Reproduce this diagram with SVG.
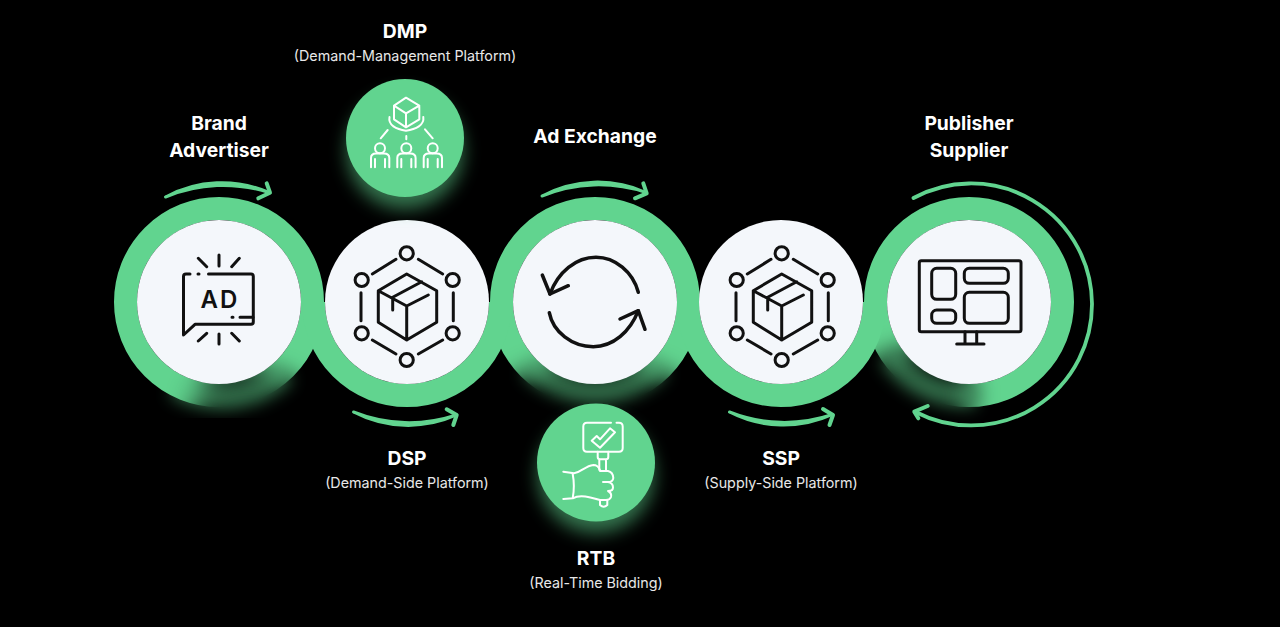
<svg xmlns="http://www.w3.org/2000/svg" width="1280" height="627" viewBox="0 0 1280 627">
<style>
.title{font-family:Inter,"Liberation Sans",sans-serif;font-size:19.300px;font-weight:700;fill:#fff;text-anchor:middle}
.sub{font-family:Inter,"Liberation Sans",sans-serif;font-size:14.300px;fill:#e8e8e8;text-anchor:middle}
.ring{fill:none;stroke:#61d48f;stroke-width:23}
.glow{fill:none;stroke:#61d48f;stroke-width:24;opacity:.5}
.disc{fill:#f4f7fb}
.ico{fill:none;stroke:#111;stroke-width:3;stroke-linecap:round;stroke-linejoin:round}
.wico{fill:none;stroke:#fff;stroke-width:2;stroke-linecap:round;stroke-linejoin:round}
.arr{fill:#61d48f;stroke:#61d48f;stroke-width:3;stroke-linejoin:round}
.thin{fill:none;stroke:#61d48f;stroke-width:3.800;stroke-linecap:round}
.hd{fill:none;stroke:#61d48f;stroke-width:4;stroke-linecap:round;stroke-linejoin:round}
.badge{fill:#61d48f}
</style>
<defs>
<filter id="b8" x="-40%" y="-80%" width="180%" height="260%"><feGaussianBlur stdDeviation="8"/></filter>
<filter id="b9" x="-40%" y="-40%" width="180%" height="180%"><feGaussianBlur stdDeviation="9"/></filter>
<filter id="b12" x="-50%" y="-50%" width="200%" height="200%"><feGaussianBlur stdDeviation="12"/></filter>
<mask id="m1" maskUnits="userSpaceOnUse" x="0" y="0" width="1280" height="627"><rect width="1280" height="627" fill="#fff"/><ellipse cx="250" cy="405" rx="58" ry="35" fill="#000" filter="url(#b12)"/></mask>
<mask id="m3" maskUnits="userSpaceOnUse" x="0" y="0" width="1280" height="627"><rect width="1280" height="627" fill="#fff"/><ellipse cx="595" cy="405" rx="95" ry="45" fill="#000" filter="url(#b12)"/></mask>
<mask id="m5" maskUnits="userSpaceOnUse" x="0" y="0" width="1280" height="627"><rect width="1280" height="627" fill="#fff"/><ellipse cx="915" cy="395" rx="58" ry="45" fill="#000" filter="url(#b12)"/></mask>
<g id="hub">
<circle cx="406.700" cy="253.300" r="6.600"/><circle cx="452.700" cy="280" r="6.600"/><circle cx="452.700" cy="333.300" r="6.600"/><circle cx="406.700" cy="360" r="6.600"/><circle cx="361.700" cy="333.300" r="6.600"/><circle cx="361.700" cy="280" r="6.600"/>
<path d="M372.300,274 L396,259.300 M418.300,259.300 L442.700,274 M453.300,292.700 V320.700 M442.700,340 L418.300,354 M396,354 L372.300,340 M361,292.700 V320.700"/>
<path d="M406.700,274 L436.700,290.700 V322.300 L406.700,340 L378.300,322.300 V290.700 Z M378.300,290.700 L406.700,306 L428.300,295 M406.700,306 V340 M421.700,281.700 L392.700,297.300 V310"/>
</g>
</defs>
<rect width="1280" height="627" fill="#000"/>

<g id="track">
<path class="glow" d="M175,385 A93.500,93.500 0 0 0 285,372" filter="url(#b8)"/>
<path class="glow" d="M530,365 A93.500,93.500 0 0 0 660,365" filter="url(#b8)"/>
<path class="glow" d="M890,355 A93.500,93.500 0 0 0 975,395" filter="url(#b8)"/>
<circle class="ring" cx="219" cy="302" r="93.500" mask="url(#m1)"/>
<circle class="ring" cx="595" cy="302" r="93.500" mask="url(#m3)"/>
<circle class="ring" cx="969" cy="302" r="93.500" mask="url(#m5)"/>
<path class="ring" d="M313.500,302 A93.500,93.500 0 0 0 500.500,302"/>
<path class="ring" d="M687.500,302 A93.500,93.500 0 0 0 874.500,302"/>
</g>

<g id="connectors">
<g><path class="arr" d="M165.500,197 A118,118 0 0 1 269,192.500 A150,150 0 0 0 165.500,197 Z"/><path class="hd" d="M266.700,183.300 L270,192.700 L258.300,198.300"/></g>
<g><path class="arr" d="M353.500,412 A118,118 0 0 0 456.500,415 A150,150 0 0 1 353.500,412 Z"/><path class="hd" d="M446.700,409.300 L456.700,415 L453.300,425"/></g>
<g><path class="arr" d="M542,196 A118,118 0 0 1 646,192.500 A150,150 0 0 0 542,196 Z"/><path class="hd" d="M643.300,183.300 L646.700,193.300 L635,198.300"/></g>
<g><path class="arr" d="M729.500,412 A118,118 0 0 0 832.500,414.500 A150,150 0 0 1 729.500,412 Z"/><path class="hd" d="M823,409 L833,415 L829.500,425"/></g>
<g><path class="thin" d="M913.500,198 A121,121 0 1 1 915.500,412"/><path class="hd" d="M927.700,406 L914.300,411.700 L918.300,418.300"/></g>
</g>

<g id="node-brand">
<circle class="disc" cx="219" cy="302" r="82"/>
<g class="ico">
<path d="M190,274 H186 Q183.500,274 183.500,276.500 V335 L195,324.300 H251 Q253.300,324.300 253.300,322 V276.500 Q253.300,274 251,274 H208.500"/>
<path d="M198,274 H199 M232,317.300 H233 M240,317.300 H253"/>
<path d="M219,255 V266 M198.300,258.300 L206.700,266.700 M239.300,258.300 L231.700,266.700 M219,334 V344 M198.300,341 L206.700,333.300 M239.300,341 L231.700,333.300"/>
</g>
<text x="220" y="308" font-family="Inter,'Liberation Sans',sans-serif" font-size="24" font-weight="600" letter-spacing="2" fill="#111" text-anchor="middle">AD</text>
<text class="title" x="219" y="130">Brand</text>
<text class="title" x="219" y="157">Advertiser</text>
</g>

<g id="node-dsp">
<circle class="disc" cx="407" cy="302" r="82"/>
<use href="#hub" class="ico"/>
<text class="title" x="407" y="465">DSP</text>
<text class="sub" x="407" y="488">(Demand-Side Platform)</text>
</g>

<g id="node-dmp">
<circle cx="405" cy="151" r="58" fill="#61d48f" opacity=".55" filter="url(#b9)"/>
<circle class="badge" cx="405" cy="138" r="59"/>
<g class="wico">
<path d="M406,97.700 L419.300,105.700 V119.300 L406,127.300 L394,119.300 V105.700 Z M394,105.700 L406,113.300 L419.300,105.700 M406,113.300 V127.300"/>
<path d="M389.500,117 C388,125 396,129.500 406,130.700 C416,129.500 424.500,125 423.300,117"/>
<path d="M380.700,138.300 L387.700,130 M406.300,136 V139.300 M432.700,138.300 L425,129.300"/>
<g id="person"><circle cx="380" cy="148.300" r="5"/><path d="M371,167.300 V158 Q371,153.500 376,153.500 H384 Q389.300,153.500 389.300,158 V167.300 M375,167.300 V159 M385,167.300 V159"/></g>
<use href="#person" x="26.300"/><use href="#person" x="52.700"/>
</g>
<text class="title" x="405" y="38">DMP</text>
<text class="sub" x="405" y="61">(Demand-Management Platform)</text>
</g>

<g id="node-exchange">
<circle class="disc" cx="595" cy="302" r="82"/>
<g class="ico" style="stroke-width:3.500">
<path d="M638.300,292.300 C633,272 615,257.300 596,257.300 C576,257.300 558,272 550,294"/>
<path d="M542.300,275 L550,294 L568.300,285.700"/>
<path d="M549.300,312.700 C553,332 572,346.700 593.300,346.700 C613,346.700 630,332 638.300,310.700"/>
<path d="M645,329.300 L638.300,310.700 L620,319"/>
</g>
<text class="title" x="595" y="143">Ad Exchange</text>
</g>

<g id="node-rtb">
<circle cx="596" cy="475" r="58" fill="#61d48f" opacity=".55" filter="url(#b9)"/>
<circle class="badge" cx="596" cy="462.500" r="59"/>
<g class="wico">
<path d="M611,422.700 H587 Q583.300,422.700 583.300,426.500 V448 Q583.300,451.700 587,451.700 H619 Q622.700,451.700 622.700,448 V426.500 Q622.700,422.700 619,422.700 H616.500"/>
<path d="M591.700,440.700 L596.700,436 L600,439.300 L610,428.300 L615,432.300 L600,447.700 Z"/>
<path d="M597.700,451.700 V457 Q597.700,459.300 600,459.300 H606 Q608.300,459.300 608.300,457 V451.700 M599.300,459.300 V470 M606,459.300 V471"/>
<path d="M563.300,471.700 L574,473.300 C582,472 585,466 593.300,465 Q598,465 600,470 M572.700,474 Q575,486 572.700,498.300 M563.300,499 L572.700,498.300 C580,494 590,497 600,500"/>
<path d="M600,471 H608 Q613,472 613.300,478 Q613,482 608,482 H603 M608,482 Q613,483 613,487.500 Q613,491 608,491 M608,491 Q612,493 611,497 Q610,500 606,500 H600 M600,500 V505 Q603.700,508.500 607.300,505 V500"/>
</g>
<text class="title" x="596" y="565">RTB</text>
<text class="sub" x="596" y="588">(Real-Time Bidding)</text>
</g>

<g id="node-ssp">
<circle class="disc" cx="781" cy="302" r="82"/>
<use href="#hub" class="ico" x="375"/>
<text class="title" x="781" y="465">SSP</text>
<text class="sub" x="781" y="488">(Supply-Side Platform)</text>
</g>

<g id="node-publisher">
<circle class="disc" cx="969" cy="302" r="82"/>
<g class="ico" style="stroke-width:3">
<rect x="919.300" y="260.700" width="101.700" height="71" rx="2"/>
<path d="M965,331.700 V344 M976.700,331.700 V344 M956.700,344 H984"/>
<rect x="931.700" y="268.300" width="24" height="31" rx="5"/>
<rect x="964.300" y="268.300" width="44" height="15" rx="5"/>
<rect x="964.300" y="292.300" width="44" height="31" rx="5"/>
<rect x="931.700" y="310" width="24" height="13.300" rx="5"/>
</g>
<text class="title" x="969" y="130">Publisher</text>
<text class="title" x="969" y="157">Supplier</text>
</g>
</svg>
